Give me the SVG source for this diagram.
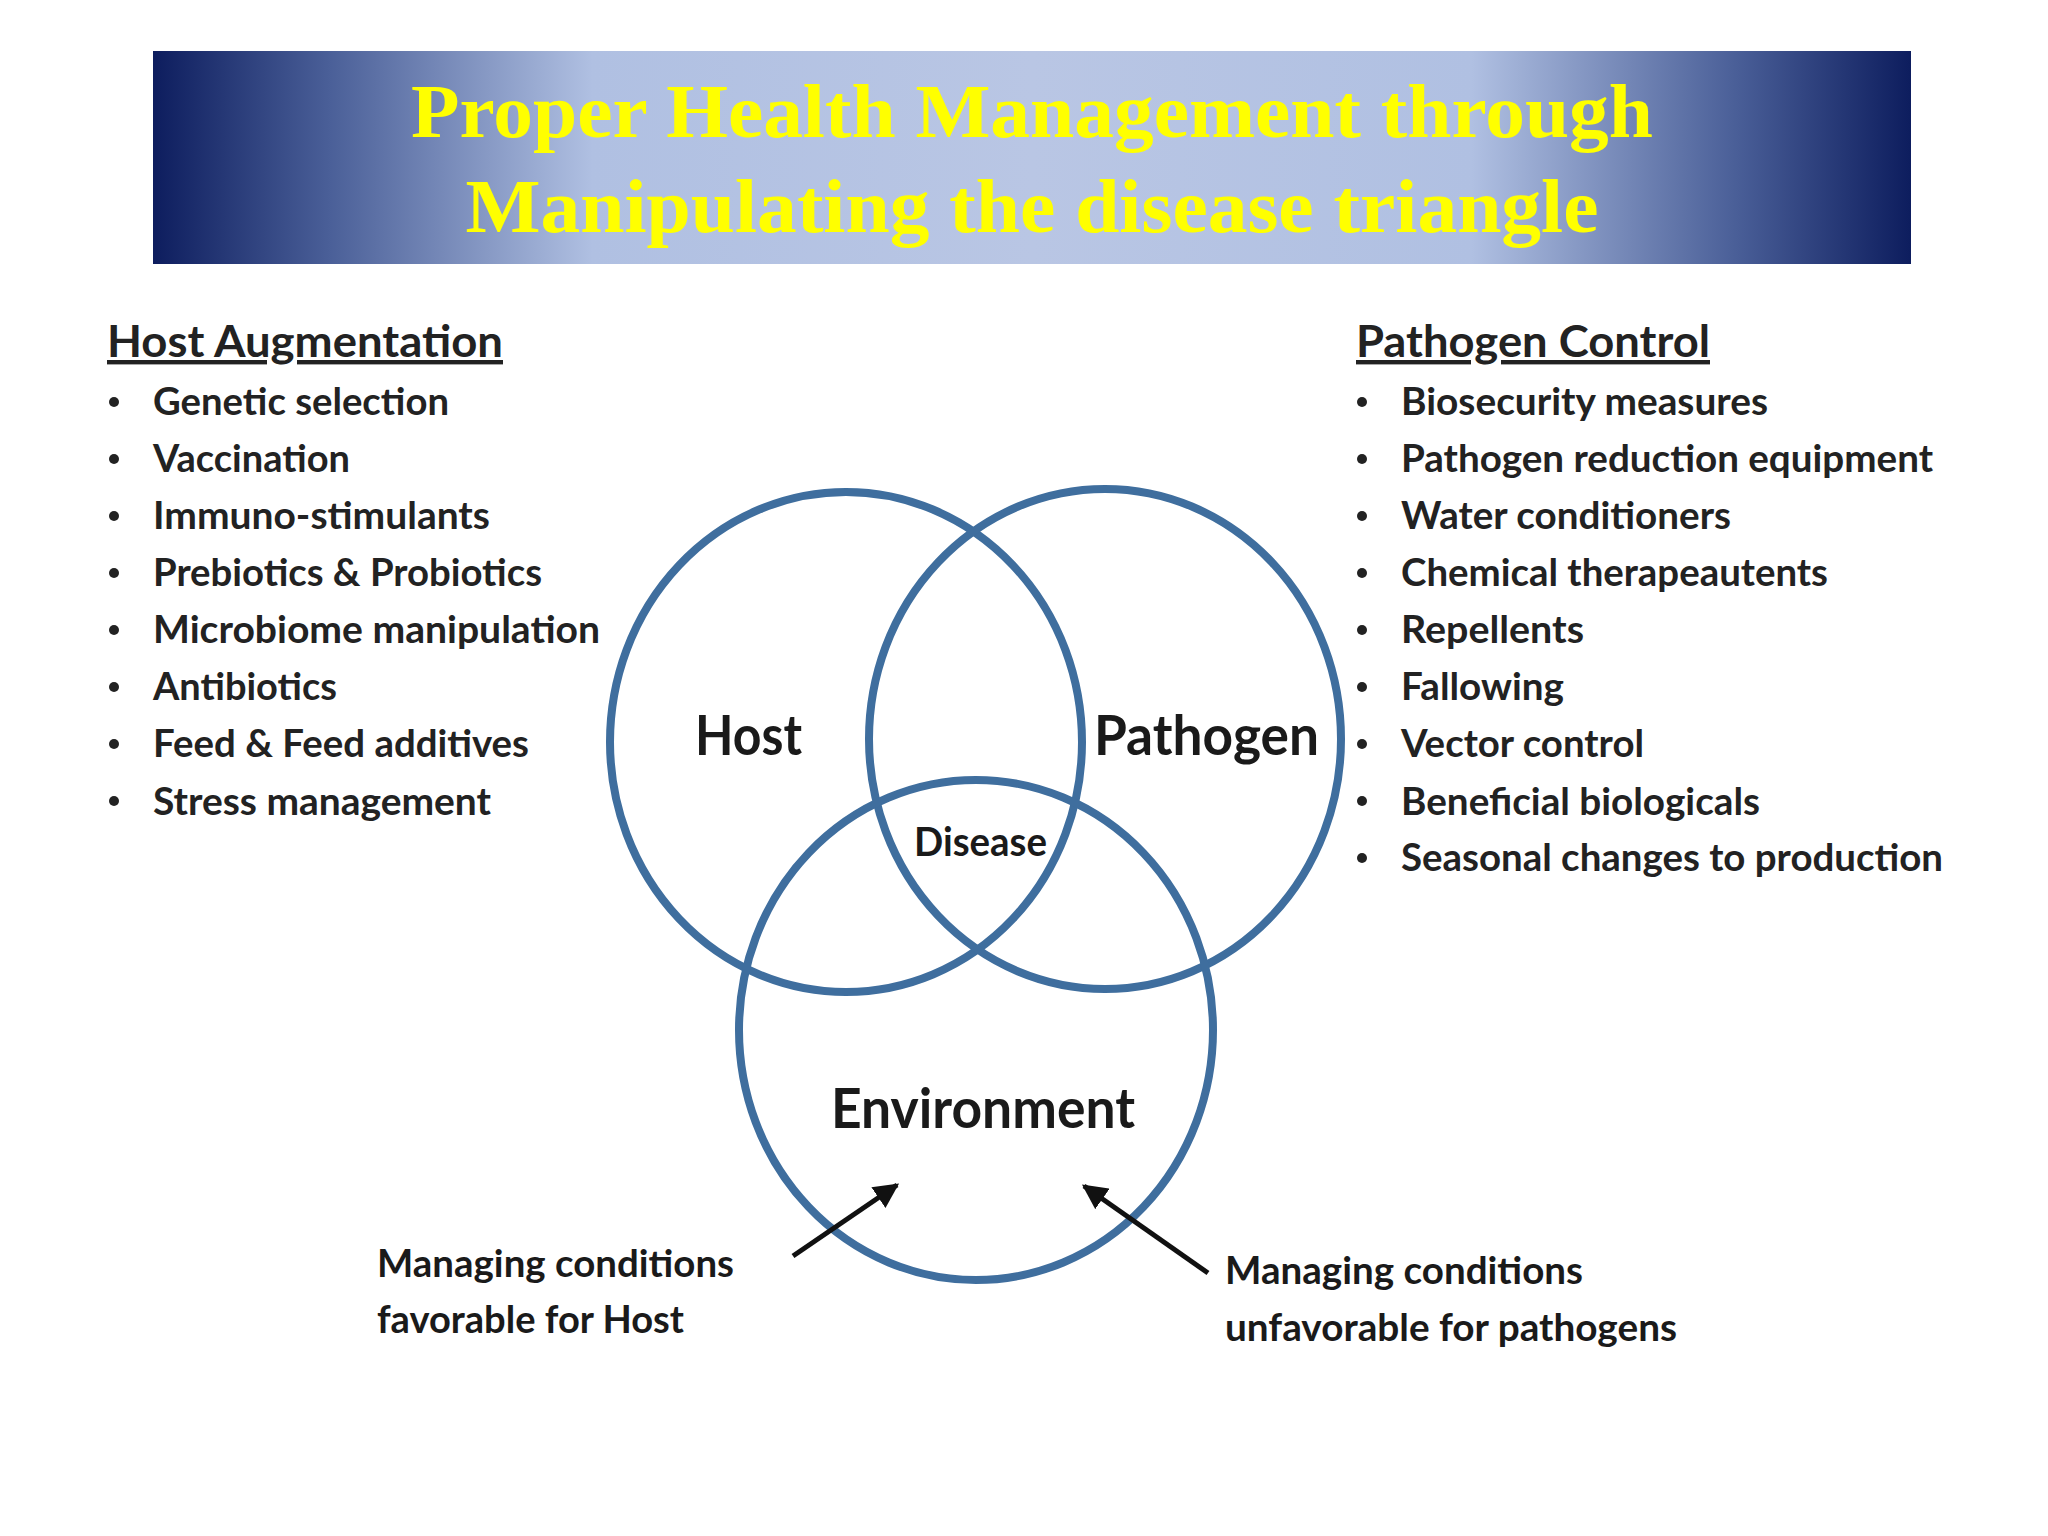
<svg xmlns="http://www.w3.org/2000/svg" width="2048" height="1536" viewBox="0 0 2048 1536">
<defs>
<linearGradient id="band" x1="0" y1="0" x2="1" y2="0">
<stop offset="0" stop-color="#0d1d5e"/>
<stop offset="0.1" stop-color="#4a5f98"/>
<stop offset="0.25" stop-color="#b0c0e2"/>
<stop offset="0.5" stop-color="#b9c6e4"/>
<stop offset="0.75" stop-color="#b0c0e2"/>
<stop offset="0.9" stop-color="#4a5f98"/>
<stop offset="1" stop-color="#0d1d5e"/>
</linearGradient>
<marker id="ah" viewBox="0 0 10 10" refX="9" refY="5" markerWidth="5" markerHeight="5" orient="auto" markerUnits="strokeWidth">
<path d="M0,0 L10,5 L0,10 z" fill="#111"/>
</marker>
<style>
.title{font-family:"Liberation Serif","Times New Roman",serif;font-weight:bold;font-size:76px;fill:#ffff00;text-anchor:middle}
.head{font-family:Lato,"Liberation Sans",sans-serif;font-weight:bold;font-size:44px;fill:#222;text-decoration:underline}
.item{font-family:Lato,"Liberation Sans",sans-serif;font-weight:bold;font-size:38px;fill:#222}
.bul{fill:#222}
.lbl{font-family:Lato,"Liberation Sans",sans-serif;font-weight:bold;fill:#1a1a1a}
.circ{fill:none;stroke:#3f6e9e;stroke-width:8}
.conn{stroke:#111;stroke-width:5;fill:none;marker-end:url(#ah)}
</style>
</defs>
<rect width="2048" height="1536" fill="#ffffff"/>
<g id="title">
<rect x="153" y="51" width="1758" height="213" fill="url(#band)"/>
<text class="title" x="1032" y="137" textLength="1242" lengthAdjust="spacingAndGlyphs">Proper Health Management through</text>
<text class="title" x="1032" y="232" textLength="1133" lengthAdjust="spacingAndGlyphs">Manipulating the disease triangle</text>
</g>
<g id="host-augmentation">
<text class="head" x="107" y="357" textLength="396" lengthAdjust="spacingAndGlyphs">Host Augmentation</text>
<g class="bul">
<circle cx="114" cy="402" r="5"/><circle cx="114" cy="459" r="5"/><circle cx="114" cy="516" r="5"/><circle cx="114" cy="573" r="5"/><circle cx="114" cy="630" r="5"/><circle cx="114" cy="687" r="5"/><circle cx="114" cy="744" r="5"/><circle cx="114" cy="801" r="5"/>
</g>
<text class="item" x="153" y="415" textLength="296" lengthAdjust="spacingAndGlyphs">Genetic selection</text>
<text class="item" x="153" y="472" textLength="197" lengthAdjust="spacingAndGlyphs">Vaccination</text>
<text class="item" x="153" y="529" textLength="337" lengthAdjust="spacingAndGlyphs">Immuno-stimulants</text>
<text class="item" x="153" y="586" textLength="389" lengthAdjust="spacingAndGlyphs">Prebiotics &amp; Probiotics</text>
<text class="item" x="153" y="643" textLength="447" lengthAdjust="spacingAndGlyphs">Microbiome manipulation</text>
<text class="item" x="153" y="700" textLength="184" lengthAdjust="spacingAndGlyphs">Antibiotics</text>
<text class="item" x="153" y="757" textLength="376" lengthAdjust="spacingAndGlyphs">Feed &amp; Feed additives</text>
<text class="item" x="153" y="815" textLength="338" lengthAdjust="spacingAndGlyphs">Stress management</text>
</g>
<g id="pathogen-control">
<text class="head" x="1356" y="357" textLength="354" lengthAdjust="spacingAndGlyphs">Pathogen Control</text>
<g class="bul">
<circle cx="1362" cy="402" r="5"/><circle cx="1362" cy="459" r="5"/><circle cx="1362" cy="516" r="5"/><circle cx="1362" cy="573" r="5"/><circle cx="1362" cy="630" r="5"/><circle cx="1362" cy="687" r="5"/><circle cx="1362" cy="744" r="5"/><circle cx="1362" cy="801" r="5"/><circle cx="1362" cy="858" r="5"/>
</g>
<text class="item" x="1401" y="415" textLength="367" lengthAdjust="spacingAndGlyphs">Biosecurity measures</text>
<text class="item" x="1401" y="472" textLength="532" lengthAdjust="spacingAndGlyphs">Pathogen reduction equipment</text>
<text class="item" x="1401" y="529" textLength="330" lengthAdjust="spacingAndGlyphs">Water conditioners</text>
<text class="item" x="1401" y="586" textLength="427" lengthAdjust="spacingAndGlyphs">Chemical therapeautents</text>
<text class="item" x="1401" y="643" textLength="183" lengthAdjust="spacingAndGlyphs">Repellents</text>
<text class="item" x="1401" y="700" textLength="163" lengthAdjust="spacingAndGlyphs">Fallowing</text>
<text class="item" x="1401" y="757" textLength="243" lengthAdjust="spacingAndGlyphs">Vector control</text>
<text class="item" x="1401" y="815" textLength="359" lengthAdjust="spacingAndGlyphs">Beneficial biologicals</text>
<text class="item" x="1401" y="871" textLength="542" lengthAdjust="spacingAndGlyphs">Seasonal changes to production</text>
</g>
<g id="host">
<ellipse class="circ" cx="846" cy="742" rx="236" ry="250"/>
<text class="lbl" x="695" y="755" font-size="56" textLength="107" lengthAdjust="spacingAndGlyphs">Host</text>
</g>
<g id="pathogen">
<ellipse class="circ" cx="1105" cy="739" rx="236" ry="250"/>
<text class="lbl" x="1094" y="755" font-size="56" textLength="225" lengthAdjust="spacingAndGlyphs">Pathogen</text>
</g>
<g id="environment">
<ellipse class="circ" cx="976" cy="1030" rx="237" ry="250"/>
<text class="lbl" x="831" y="1128" font-size="56" textLength="304" lengthAdjust="spacingAndGlyphs">Environment</text>
</g>
<g id="disease">
<text class="lbl" x="914" y="856" font-size="40" textLength="133" lengthAdjust="spacingAndGlyphs">Disease</text>
</g>
<g id="label-host-conditions">
<text class="lbl" x="377" y="1277" font-size="38" textLength="357" lengthAdjust="spacingAndGlyphs">Managing conditions</text>
<text class="lbl" x="377" y="1333" font-size="38" textLength="307" lengthAdjust="spacingAndGlyphs">favorable for Host</text>
</g>
<g id="label-pathogen-conditions">
<text class="lbl" x="1225" y="1284" font-size="38" textLength="358" lengthAdjust="spacingAndGlyphs">Managing conditions</text>
<text class="lbl" x="1225" y="1341" font-size="38" textLength="452" lengthAdjust="spacingAndGlyphs">unfavorable for pathogens</text>
</g>
<g id="connectors">
<line class="conn" x1="793" y1="1256" x2="897" y2="1185"/>
<line class="conn" x1="1208" y1="1273" x2="1084" y2="1186"/>
</g>
</svg>
